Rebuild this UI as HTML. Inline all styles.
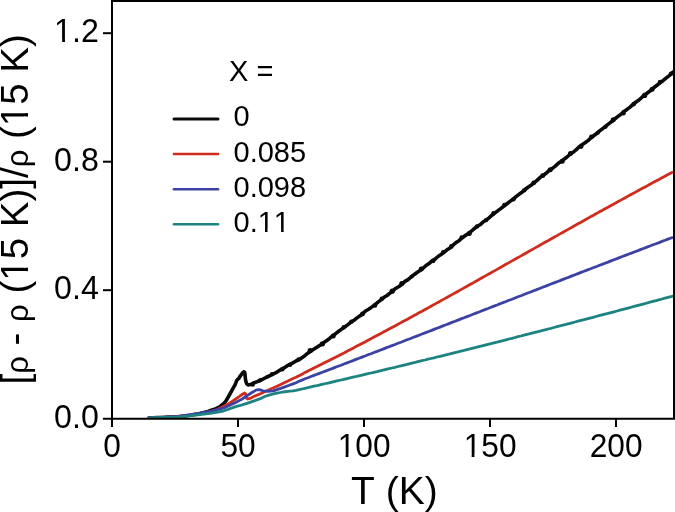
<!DOCTYPE html>
<html><head><meta charset="utf-8"><style>
html,body{margin:0;padding:0;background:#fff;width:675px;height:512px;overflow:hidden}
svg{display:block}
text{font-kerning:none}
</style></head><body>
<svg width="675" height="512" viewBox="0 0 675 512">
<rect width="675" height="512" fill="#fff"/>
<defs><clipPath id="c"><rect x="112" y="0" width="562" height="419"/></clipPath></defs>
<g clip-path="url(#c)" fill="none" stroke-linejoin="round" stroke-linecap="round">
<path d="M149.0,417.8 L153.0,417.7 L157.0,417.6 L161.0,417.5 L165.0,417.4 L170.0,417.1 L175.0,416.8 L180.0,416.5 L184.0,416.0 L188.0,415.5 L192.0,415.0 L196.0,414.2 L200.0,413.4 L204.0,412.4 L208.0,411.4 L212.0,409.9 L216.0,408.7 L219.6,407.0 L222.0,405.0 L223.7,403.6 L226.0,400.8 L228.8,396.0 L232.5,389.4 L235.0,384.9 L236.9,380.2 L238.0,379.1 L238.9,378.4 L240.0,376.3 L241.9,373.8 L243.0,372.5 L243.8,371.9 L244.5,372.0 L245.0,373.8 L245.3,378.1 L245.9,381.5 L246.8,383.8 L248.1,384.9 L250.5,384.5 L253.4,383.0 L259.6,380.8 L265.9,377.5 L272.1,374.7 L276.0,372.7 L280.0,370.1 L284.0,367.9 L288.0,365.3 L292.0,363.4 L296.0,361.0 L300.0,359.1 L304.2,356.2 L308.5,352.7 L313.3,349.5 L318.1,346.4 L321.7,344.3 L325.4,341.4 L329.0,338.9 L330.0,337.9 L333.0,335.7 L336.0,333.3 L339.0,331.0 L342.0,328.9 L345.0,326.7 L348.0,324.6 L351.0,322.2 L354.0,320.2 L357.0,317.9 L360.0,315.8 L363.0,313.3 L366.0,310.7 L369.0,309.0 L372.0,306.9 L375.0,304.6 L378.0,302.1 L381.0,299.9 L384.0,297.3 L387.0,295.5 L390.0,293.1 L393.0,290.6 L396.0,288.2 L399.0,286.5 L402.0,284.3 L405.0,281.4 L408.0,279.6 L411.0,277.1 L414.0,274.7 L417.0,272.5 L420.0,270.5 L423.0,268.3 L426.0,265.5 L429.0,263.6 L432.0,260.9 L435.0,259.1 L438.0,256.5 L441.0,254.6 L444.0,252.4 L447.0,249.8 L450.0,247.9 L453.0,245.1 L456.0,242.6 L459.0,240.7 L462.0,238.0 L465.0,235.8 L468.0,233.7 L471.0,231.5 L474.0,228.9 L477.0,226.5 L480.0,224.8 L483.0,222.1 L486.0,220.2 L489.0,217.8 L492.0,215.2 L495.0,212.9 L498.0,210.6 L501.0,208.4 L504.0,206.0 L507.0,203.7 L510.0,201.4 L513.0,199.3 L516.0,196.7 L519.0,194.3 L522.0,192.2 L525.0,189.5 L528.0,187.2 L531.0,185.3 L534.0,182.7 L537.0,180.4 L540.0,177.6 L543.0,175.6 L546.0,173.3 L549.0,170.6 L552.0,168.7 L555.0,166.3 L558.0,163.6 L561.0,161.6 L564.0,159.2 L567.0,157.0 L570.0,154.4 L573.0,152.3 L576.0,149.9 L579.0,147.0 L582.0,144.7 L585.0,142.8 L588.0,140.6 L591.0,137.7 L594.0,135.5 L597.0,133.2 L600.0,130.7 L603.0,128.3 L606.0,125.9 L609.0,123.6 L612.0,121.3 L615.0,118.7 L618.0,116.4 L621.0,114.3 L624.0,111.4 L627.0,109.4 L630.0,107.1 L633.0,104.4 L636.0,102.0 L639.0,100.0 L642.0,97.2 L645.0,94.7 L648.0,92.5 L651.0,90.3 L654.0,87.5 L657.0,85.2 L660.0,82.8 L663.0,80.7 L666.0,78.1 L669.0,75.9 L672.0,73.0 L675.0,70.7 L678.0,68.4" stroke="#0a0a0a" stroke-width="3.6"/>
<g fill="#0a0a0a" stroke="none"><circle cx="252.6" cy="384.5" r="2.3"/><circle cx="260.2" cy="380.1" r="2.1"/><circle cx="272.0" cy="374.1" r="2.2"/><circle cx="282.4" cy="369.3" r="2.2"/><circle cx="290.0" cy="364.8" r="2.2"/><circle cx="298.6" cy="359.4" r="2.2"/><circle cx="310.2" cy="350.6" r="2.6"/><circle cx="322.4" cy="343.8" r="2.6"/><circle cx="333.2" cy="335.9" r="2.5"/><circle cx="343.7" cy="327.2" r="2.2"/><circle cx="351.4" cy="321.6" r="2.2"/><circle cx="362.5" cy="314.0" r="2.4"/><circle cx="375.0" cy="305.4" r="2.3"/><circle cx="381.7" cy="298.8" r="2.2"/><circle cx="392.2" cy="291.2" r="2.6"/><circle cx="401.8" cy="283.5" r="2.5"/><circle cx="411.7" cy="276.5" r="2.1"/><circle cx="421.2" cy="269.0" r="2.5"/><circle cx="433.2" cy="261.2" r="2.0"/><circle cx="443.1" cy="252.2" r="2.2"/><circle cx="451.3" cy="246.4" r="2.3"/><circle cx="461.5" cy="237.4" r="2.1"/><circle cx="469.3" cy="233.4" r="2.5"/><circle cx="477.0" cy="226.4" r="2.2"/><circle cx="486.1" cy="220.1" r="2.2"/><circle cx="493.5" cy="213.2" r="2.3"/><circle cx="504.3" cy="204.8" r="2.1"/><circle cx="513.5" cy="199.2" r="2.2"/><circle cx="524.3" cy="190.2" r="2.2"/><circle cx="533.8" cy="182.8" r="2.4"/><circle cx="542.7" cy="175.7" r="2.4"/><circle cx="550.2" cy="169.8" r="2.5"/><circle cx="562.2" cy="161.3" r="2.5"/><circle cx="570.4" cy="153.4" r="2.5"/><circle cx="581.1" cy="146.6" r="2.4"/><circle cx="591.5" cy="136.8" r="2.4"/><circle cx="597.9" cy="132.7" r="2.0"/><circle cx="605.6" cy="126.8" r="2.1"/><circle cx="613.2" cy="119.8" r="2.5"/><circle cx="623.5" cy="113.3" r="2.3"/><circle cx="633.8" cy="104.1" r="2.3"/><circle cx="644.6" cy="95.4" r="2.6"/><circle cx="652.1" cy="89.2" r="2.5"/><circle cx="660.1" cy="82.1" r="2.4"/><circle cx="671.0" cy="73.7" r="2.2"/></g>
<path d="M149.0,417.8 L170.0,417.0 L190.0,415.4 L204.0,413.2 L216.5,409.8 L227.8,404.3 L235.7,399.0 L239.8,396.2 L242.8,394.0 L244.7,393.0 L245.6,393.8 L246.1,396.3 L246.6,398.3 L247.8,399.0 L250.0,398.4 L254.8,396.1 L261.0,393.5 L268.0,390.3 L276.5,386.5 L290.0,380.1 L293.0,378.6 L296.0,377.2 L299.0,375.7 L302.0,374.2 L305.0,372.6 L308.0,371.1 L311.0,369.6 L314.0,368.1 L317.0,366.6 L320.0,365.1 L323.0,363.6 L326.0,362.1 L329.0,360.6 L332.0,359.0 L335.0,357.5 L338.0,356.0 L341.0,354.4 L344.0,352.9 L347.0,351.3 L350.0,349.8 L353.0,348.2 L356.0,346.6 L359.0,345.1 L362.0,343.5 L365.0,341.9 L368.0,340.3 L371.0,338.7 L374.0,337.1 L377.0,335.5 L380.0,333.9 L383.0,332.3 L386.0,330.7 L389.0,329.1 L392.0,327.5 L395.0,325.9 L398.0,324.3 L401.0,322.6 L404.0,321.0 L407.0,319.4 L410.0,317.8 L413.0,316.1 L416.0,314.5 L419.0,312.8 L422.0,311.2 L425.0,309.5 L428.0,307.9 L431.0,306.2 L434.0,304.6 L437.0,302.9 L440.0,301.3 L443.0,299.6 L446.0,297.9 L449.0,296.3 L452.0,294.6 L455.0,292.9 L458.0,291.3 L461.0,289.6 L464.0,287.9 L467.0,286.2 L470.0,284.5 L473.0,282.9 L476.0,281.2 L479.0,279.5 L482.0,277.8 L485.0,276.1 L488.0,274.4 L491.0,272.8 L494.0,271.1 L497.0,269.4 L500.0,267.7 L503.0,266.0 L506.0,264.3 L509.0,262.6 L512.0,260.9 L515.0,259.2 L518.0,257.6 L521.0,255.9 L524.0,254.2 L527.0,252.5 L530.0,250.8 L533.0,249.1 L536.0,247.4 L539.0,245.7 L542.0,244.0 L545.0,242.3 L548.0,240.7 L551.0,239.0 L554.0,237.3 L557.0,235.6 L560.0,233.9 L563.0,232.2 L566.0,230.6 L569.0,228.9 L572.0,227.2 L575.0,225.5 L578.0,223.8 L581.0,222.2 L584.0,220.5 L587.0,218.8 L590.0,217.1 L593.0,215.5 L596.0,213.8 L599.0,212.1 L602.0,210.5 L605.0,208.8 L608.0,207.2 L611.0,205.5 L614.0,203.9 L617.0,202.2 L620.0,200.6 L623.0,198.9 L626.0,197.3 L629.0,195.6 L632.0,194.0 L635.0,192.4 L638.0,190.7 L641.0,189.1 L644.0,187.5 L647.0,185.9 L650.0,184.2 L653.0,182.6 L656.0,181.0 L659.0,179.4 L662.0,177.8 L665.0,176.2 L668.0,174.6 L671.0,173.0 L672.0,172.5" stroke="#cf2c1e" stroke-width="2.8"/>
<path d="M149.0,417.8 L180.0,416.3 L200.0,413.1 L211.7,411.1 L223.4,408.2 L235.7,402.4 L242.2,399.0 L246.0,396.4 L251.6,392.8 L256.5,389.9 L259.5,389.6 L262.9,390.8 L268.0,391.4 L273.4,390.8 L282.8,387.6 L290.0,385.0 L293.0,383.9 L296.0,382.7 L299.0,381.3 L302.0,380.1 L305.0,378.8 L308.0,377.7 L311.0,376.5 L314.0,375.4 L317.0,374.3 L320.0,373.1 L323.0,372.0 L326.0,370.9 L329.0,369.7 L332.0,368.6 L335.0,367.4 L338.0,366.3 L341.0,365.2 L344.0,364.0 L347.0,362.9 L350.0,361.7 L353.0,360.6 L356.0,359.4 L359.0,358.3 L362.0,357.1 L365.0,356.0 L368.0,354.8 L371.0,353.7 L374.0,352.5 L377.0,351.4 L380.0,350.2 L383.0,349.1 L386.0,347.9 L389.0,346.8 L392.0,345.6 L395.0,344.5 L398.0,343.3 L401.0,342.2 L404.0,341.0 L407.0,339.8 L410.0,338.7 L413.0,337.5 L416.0,336.4 L419.0,335.2 L422.0,334.0 L425.0,332.9 L428.0,331.7 L431.0,330.6 L434.0,329.4 L437.0,328.2 L440.0,327.1 L443.0,325.9 L446.0,324.8 L449.0,323.6 L452.0,322.4 L455.0,321.3 L458.0,320.1 L461.0,318.9 L464.0,317.8 L467.0,316.6 L470.0,315.5 L473.0,314.3 L476.0,313.1 L479.0,312.0 L482.0,310.8 L485.0,309.6 L488.0,308.5 L491.0,307.3 L494.0,306.1 L497.0,305.0 L500.0,303.8 L503.0,302.6 L506.0,301.5 L509.0,300.3 L512.0,299.2 L515.0,298.0 L518.0,296.8 L521.0,295.7 L524.0,294.5 L527.0,293.3 L530.0,292.2 L533.0,291.0 L536.0,289.9 L539.0,288.7 L542.0,287.5 L545.0,286.4 L548.0,285.2 L551.0,284.0 L554.0,282.9 L557.0,281.7 L560.0,280.6 L563.0,279.4 L566.0,278.2 L569.0,277.1 L572.0,275.9 L575.0,274.8 L578.0,273.6 L581.0,272.4 L584.0,271.3 L587.0,270.1 L590.0,269.0 L593.0,267.8 L596.0,266.7 L599.0,265.5 L602.0,264.4 L605.0,263.2 L608.0,262.1 L611.0,260.9 L614.0,259.7 L617.0,258.6 L620.0,257.4 L623.0,256.3 L626.0,255.1 L629.0,254.0 L632.0,252.9 L635.0,251.7 L638.0,250.6 L641.0,249.4 L644.0,248.3 L647.0,247.1 L650.0,246.0 L653.0,244.8 L656.0,243.7 L659.0,242.6 L662.0,241.4 L665.0,240.3 L668.0,239.1 L671.0,238.0 L672.0,237.6" stroke="#3a42a4" stroke-width="2.8"/>
<path d="M149.0,417.8 L180.0,416.8 L200.0,414.6 L211.7,413.1 L223.4,411.0 L235.7,406.6 L242.2,404.9 L248.5,402.8 L254.8,400.6 L261.0,398.4 L264.0,396.8 L268.0,395.4 L273.4,393.9 L282.8,392.0 L290.0,391.1 L293.0,390.8 L296.0,390.4 L299.0,389.7 L302.0,389.0 L305.0,388.3 L308.0,387.6 L311.0,386.9 L314.0,386.2 L317.0,385.6 L320.0,384.9 L323.0,384.2 L326.0,383.5 L329.0,382.8 L332.0,382.1 L335.0,381.4 L338.0,380.7 L341.0,380.0 L344.0,379.3 L347.0,378.6 L350.0,377.9 L353.0,377.2 L356.0,376.5 L359.0,375.8 L362.0,375.1 L365.0,374.4 L368.0,373.7 L371.0,373.0 L374.0,372.3 L377.0,371.6 L380.0,370.8 L383.0,370.1 L386.0,369.4 L389.0,368.7 L392.0,368.0 L395.0,367.3 L398.0,366.5 L401.0,365.8 L404.0,365.1 L407.0,364.4 L410.0,363.6 L413.0,362.9 L416.0,362.2 L419.0,361.4 L422.0,360.7 L425.0,360.0 L428.0,359.2 L431.0,358.5 L434.0,357.8 L437.0,357.0 L440.0,356.3 L443.0,355.6 L446.0,354.8 L449.0,354.1 L452.0,353.3 L455.0,352.6 L458.0,351.9 L461.0,351.1 L464.0,350.4 L467.0,349.6 L470.0,348.9 L473.0,348.1 L476.0,347.4 L479.0,346.6 L482.0,345.9 L485.0,345.1 L488.0,344.3 L491.0,343.6 L494.0,342.8 L497.0,342.1 L500.0,341.3 L503.0,340.6 L506.0,339.8 L509.0,339.0 L512.0,338.3 L515.0,337.5 L518.0,336.7 L521.0,336.0 L524.0,335.2 L527.0,334.4 L530.0,333.7 L533.0,332.9 L536.0,332.1 L539.0,331.4 L542.0,330.6 L545.0,329.8 L548.0,329.0 L551.0,328.3 L554.0,327.5 L557.0,326.7 L560.0,325.9 L563.0,325.1 L566.0,324.4 L569.0,323.6 L572.0,322.8 L575.0,322.0 L578.0,321.2 L581.0,320.4 L584.0,319.7 L587.0,318.9 L590.0,318.1 L593.0,317.3 L596.0,316.5 L599.0,315.7 L602.0,314.9 L605.0,314.1 L608.0,313.4 L611.0,312.6 L614.0,311.8 L617.0,311.0 L620.0,310.2 L623.0,309.4 L626.0,308.6 L629.0,307.8 L632.0,307.0 L635.0,306.2 L638.0,305.4 L641.0,304.6 L644.0,303.8 L647.0,303.0 L650.0,302.2 L653.0,301.4 L656.0,300.6 L659.0,299.8 L662.0,299.0 L665.0,298.2 L668.0,297.4 L671.0,296.6 L672.0,296.3" stroke="#1c8380" stroke-width="2.8"/>
</g>
<g stroke="#000" stroke-width="2" fill="none">
<path d="M112,0 V427 M103,418.7 H675 M112,1 H675 M674,0 V419"/>
<path d="M103,290.2 H112"/>
<path d="M103,161.7 H112"/>
<path d="M103,33.2 H112"/>
<path d="M238.0,418 V427"/>
<path d="M364.0,418 V427"/>
<path d="M490.0,418 V427"/>
<path d="M616.0,418 V427"/>
</g>
<g font-family="Liberation Sans, Arial, sans-serif" fill="#000">
<text id="y0.0" transform="translate(98.8,427.6) scale(0.975,1)" font-size="33" text-anchor="end">0.0</text>
<text id="y0.4" transform="translate(98.8,299.1) scale(0.975,1)" font-size="33" text-anchor="end">0.4</text>
<text id="y0.8" transform="translate(98.8,170.6) scale(0.975,1)" font-size="33" text-anchor="end">0.8</text>
<text id="y1.2" transform="translate(98.8,42.1) scale(0.975,1)" font-size="33" text-anchor="end">1.2</text>
<text id="x0" transform="translate(112.1,457) scale(0.975,1)" font-size="32.5" text-anchor="middle">0</text>
<text id="x50" transform="translate(238.1,457) scale(0.975,1)" font-size="32.5" text-anchor="middle">50</text>
<text id="x100" transform="translate(364.1,457) scale(0.975,1)" font-size="32.5" text-anchor="middle">100</text>
<text id="x150" transform="translate(490.1,457) scale(0.975,1)" font-size="32.5" text-anchor="middle">150</text>
<text id="x200" transform="translate(616.1,457) scale(0.975,1)" font-size="32.5" text-anchor="middle">200</text>
<text id="xt" font-size="39" x="351" y="503.5" style="white-space:pre">T (K)</text>
<text id="yt" transform="translate(27.7,384.5) rotate(-90)" font-size="38.5" style="white-space:pre">[<tspan font-size="31">ρ</tspan> - <tspan font-size="31">ρ</tspan> (15 K)]/<tspan font-size="31">ρ</tspan> (15 K)</text>
<text id="lx" font-size="29" x="229" y="81" style="white-space:pre">X =</text>
<line x1="174" y1="118.9" x2="218" y2="118.9" stroke="#0a0a0a" stroke-width="3.0" stroke-linecap="round"/>
<text id="l0" font-size="29" x="233.5" y="126.4">0</text>
<line x1="174" y1="154" x2="218" y2="154" stroke="#cf2c1e" stroke-width="2.6" stroke-linecap="round"/>
<text id="l0.085" font-size="29" x="233.5" y="161.5">0.085</text>
<line x1="174" y1="189.2" x2="218" y2="189.2" stroke="#3a42a4" stroke-width="2.6" stroke-linecap="round"/>
<text id="l0.098" font-size="29" x="233.5" y="196.7">0.098</text>
<line x1="174" y1="224.3" x2="218" y2="224.3" stroke="#1c8380" stroke-width="2.6" stroke-linecap="round"/>
<text id="l0.11" font-size="29" x="233.5" y="231.8">0.11</text>
</g>
<g fill="#fff" transform="translate(98.8,42.1) scale(0.975,1)"><rect x="-45.06" y="-3.17" width="7.49" height="4.27"/><rect x="-34.65" y="-3.17" width="6.51" height="4.27"/></g>
<g fill="#fff" transform="translate(364.1,457) scale(0.975,1)"><rect x="-26.31" y="-3.13" width="7.38" height="4.23"/><rect x="-16.06" y="-3.13" width="6.41" height="4.23"/></g>
<g fill="#fff" transform="translate(490.1,457) scale(0.975,1)"><rect x="-26.31" y="-3.13" width="7.38" height="4.23"/><rect x="-16.06" y="-3.13" width="6.41" height="4.23"/></g>
<g fill="#fff" transform="translate(27.7,384.5) rotate(-90)"><rect x="104.66" y="-3.58" width="8.74" height="4.68"/><rect x="116.80" y="-3.58" width="7.59" height="4.68"/><rect x="259.24" y="-3.58" width="8.74" height="4.68"/><rect x="271.38" y="-3.58" width="7.59" height="4.68"/></g>
<g fill="#fff"><rect x="258.38" y="228.93" width="6.58" height="3.97"/><rect x="267.53" y="228.93" width="5.72" height="3.97"/><rect x="274.52" y="228.93" width="6.58" height="3.97"/><rect x="283.67" y="228.93" width="5.72" height="3.97"/></g>
</svg>
</body></html>
